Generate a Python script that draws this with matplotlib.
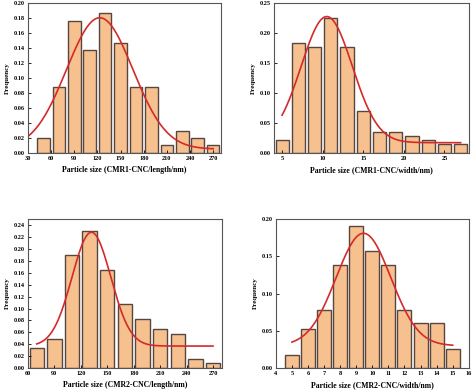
import numpy as np
import matplotlib
matplotlib.use("Agg")
import matplotlib.pyplot as plt

plt.rcParams['font.family'] = ['Liberation Serif', 'DejaVu Serif']
plt.rcParams['font.weight'] = 'bold'

# CMR1 length
len1_centers = [50, 70, 90, 110, 130, 150, 170, 190, 210, 230, 250, 270]
len1_freq = [0.020, 0.088, 0.176, 0.137, 0.186, 0.147, 0.088, 0.088, 0.010, 0.029, 0.020, 0.010]
len1_fit = [0.005, 0.175, 123, 43]  # y0, A, xc, w

# CMR1 width
wid1_centers = [5, 7, 9, 11, 13, 15, 17, 19, 21, 23, 25, 27]
wid1_freq = [0.021, 0.183, 0.176, 0.225, 0.176, 0.070, 0.035, 0.035, 0.028, 0.021, 0.014, 0.014]
wid1_fit = [0.017, 0.210, 10.5, 3.15]

# CMR2 length
len2_centers = [70, 90, 110, 130, 150, 170, 190, 210, 230, 250, 270]
len2_freq = [0.033, 0.049, 0.189, 0.230, 0.164, 0.107, 0.082, 0.066, 0.057, 0.016, 0.008]
len2_fit = [0.037, 0.191, 132, 22]

# CMR2 width
wid2_centers = [5, 6, 7, 8, 9, 10, 11, 12, 13, 14, 15]
wid2_freq = [0.017, 0.052, 0.078, 0.139, 0.191, 0.157, 0.139, 0.078, 0.061, 0.061, 0.026]
wid2_fit = [0.030, 0.151, 9.45, 1.7]

bar_color = '#F6C08F'
edge_color = '#574640'
fit_color = '#D42A2A'


def gauss(x, p):
    y0, A, xc, w = p
    return y0 + A * np.exp(-(x - xc) ** 2 / (2 * w ** 2))


def panel(rect, centers, freq, fit, width, xlim, xticks, ylim, yticks, xlabel, fit_range):
    ax = fig.add_axes(rect)
    ax.bar(centers, freq, width=width, color=bar_color, edgecolor=edge_color, linewidth=1.0)
    xs = np.linspace(fit_range[0], fit_range[1], 300)
    ax.plot(xs, gauss(xs, fit), color=fit_color, lw=1.2)
    ax.set_xlim(*xlim)
    ax.set_ylim(*ylim)
    ax.set_xticks(xticks)
    ax.set_yticks(yticks)
    ax.set_yticklabels(['%.2f' % v for v in yticks])
    ax.tick_params(direction='in', length=2, width=0.6, labelsize=4.5, pad=2)
    for lab in ax.get_xticklabels() + ax.get_yticklabels():
        lab.set_fontweight('bold')
    for s in ax.spines.values():
        s.set_linewidth(0.8)
        s.set_color('#555555')
    ax.set_xlabel(xlabel, fontsize=5.6, fontweight='bold', labelpad=4)
    ax.set_ylabel('Frequency', fontsize=5, fontweight='bold', labelpad=3)
    return ax


fig = plt.figure(figsize=(4.74, 3.92), dpi=100)

panel([0.059, 0.610, 0.407, 0.383], len1_centers, len1_freq, len1_fit, 16.3,
      (30, 280), np.arange(30, 271, 30), (0, 0.20), np.arange(0, 0.201, 0.02),
      'Particle size (CMR1-CNC/length/nm)', (30, 270))

panel([0.578, 0.610, 0.411, 0.383], wid1_centers, wid1_freq, wid1_fit, 1.62,
      (4, 28), [5, 10, 15, 20, 25], (0, 0.25), np.arange(0, 0.251, 0.05),
      'Particle size (CMR1-CNC/width/nm)', (5, 27))

panel([0.059, 0.061, 0.409, 0.380], len2_centers, len2_freq, len2_fit, 16.3,
      (60, 280), np.arange(60, 271, 30), (0, 0.25), np.arange(0, 0.241, 0.02),
      'Particle size (CMR2-CNC/length/nm)', (70, 270))

panel([0.582, 0.061, 0.407, 0.380], wid2_centers, wid2_freq, wid2_fit, 0.87,
      (4, 16), np.arange(4, 17, 1), (0, 0.20), np.arange(0, 0.201, 0.05),
      'Particle size (CMR2-CNC/width/nm)', (5, 15))

fig.savefig('out.png', dpi=100)
